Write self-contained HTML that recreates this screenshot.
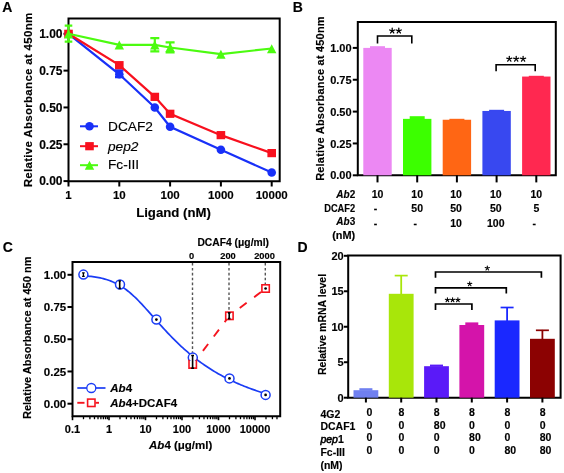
<!DOCTYPE html>
<html><head><meta charset="utf-8"><style>
html,body{margin:0;padding:0;background:#fff;}
svg{display:block;font-family:"Liberation Sans", sans-serif;will-change:transform;} text{stroke:#000;stroke-width:0.15px;}
</style></head><body>
<svg width="564" height="473" viewBox="0 0 564 473">
<rect width="564" height="473" fill="#fff"/>
<text x="2.30" y="11.60" font-size="14" text-anchor="start" font-weight="bold" font-style="normal" fill="#000" >A</text>
<path d="M68.5,18.6 H279.7 V181.2 H68.5 Z" fill="none" stroke="#000" stroke-width="2"/>
<line x1="63.50" y1="33.80" x2="68.50" y2="33.80" stroke="#000" stroke-width="2" />
<text x="62.50" y="38.10" font-size="12" text-anchor="end" font-weight="bold" font-style="normal" fill="#000" >1.00</text>
<line x1="63.50" y1="70.62" x2="68.50" y2="70.62" stroke="#000" stroke-width="2" />
<text x="62.50" y="74.92" font-size="12" text-anchor="end" font-weight="bold" font-style="normal" fill="#000" >0.75</text>
<line x1="63.50" y1="107.45" x2="68.50" y2="107.45" stroke="#000" stroke-width="2" />
<text x="62.50" y="111.75" font-size="12" text-anchor="end" font-weight="bold" font-style="normal" fill="#000" >0.50</text>
<line x1="63.50" y1="144.27" x2="68.50" y2="144.27" stroke="#000" stroke-width="2" />
<text x="62.50" y="148.57" font-size="12" text-anchor="end" font-weight="bold" font-style="normal" fill="#000" >0.25</text>
<line x1="63.50" y1="181.10" x2="68.50" y2="181.10" stroke="#000" stroke-width="2" />
<text x="62.50" y="185.40" font-size="12" text-anchor="end" font-weight="bold" font-style="normal" fill="#000" >0.00</text>
<line x1="68.50" y1="181.20" x2="68.50" y2="186.50" stroke="#000" stroke-width="2" />
<text x="68.50" y="199.30" font-size="11.5" text-anchor="middle" font-weight="bold" font-style="normal" fill="#000" >1</text>
<line x1="119.30" y1="181.20" x2="119.30" y2="186.50" stroke="#000" stroke-width="2" />
<text x="119.30" y="199.30" font-size="11.5" text-anchor="middle" font-weight="bold" font-style="normal" fill="#000" >10</text>
<line x1="170.10" y1="181.20" x2="170.10" y2="186.50" stroke="#000" stroke-width="2" />
<text x="170.10" y="199.30" font-size="11.5" text-anchor="middle" font-weight="bold" font-style="normal" fill="#000" >100</text>
<line x1="220.90" y1="181.20" x2="220.90" y2="186.50" stroke="#000" stroke-width="2" />
<text x="220.90" y="199.30" font-size="11.5" text-anchor="middle" font-weight="bold" font-style="normal" fill="#000" >1000</text>
<line x1="271.70" y1="181.20" x2="271.70" y2="186.50" stroke="#000" stroke-width="2" />
<text x="271.70" y="199.30" font-size="11.5" text-anchor="middle" font-weight="bold" font-style="normal" fill="#000" >10000</text>
<text x="173.50" y="217.30" font-size="13.2" text-anchor="middle" font-weight="bold" font-style="normal" fill="#000" >Ligand (nM)</text>
<text x="0" y="0" font-size="11.5" font-weight="bold" text-anchor="middle" textLength="174.5" lengthAdjust="spacing" transform="translate(31.5,100) rotate(-90)">Relative Absorbance at 450nm</text>
<polyline points="68.50,33.80 119.30,74.31 154.81,107.45 170.10,126.75 220.90,149.73 271.70,172.56" fill="none" stroke="#1830f8" stroke-width="2.2"/>
<path d="M119.30,70.30 V77.20 M115.00,70.30 H123.60 M115.00,77.20 H123.60" stroke="#1830f8" stroke-width="2.2" fill="none"/>
<circle cx="68.50" cy="33.80" r="4.3" fill="#1830f8"/>
<circle cx="119.30" cy="74.31" r="4.3" fill="#1830f8"/>
<circle cx="154.81" cy="107.45" r="4.3" fill="#1830f8"/>
<circle cx="170.10" cy="126.75" r="4.3" fill="#1830f8"/>
<circle cx="220.90" cy="149.73" r="4.3" fill="#1830f8"/>
<circle cx="271.70" cy="172.56" r="4.3" fill="#1830f8"/>
<polyline points="68.50,33.80 119.30,65.17 154.81,96.84 170.10,113.78 220.90,135.14 271.70,153.11" fill="none" stroke="#f8101e" stroke-width="2.2"/>
<rect x="64.20" y="29.70" width="8.60" height="8.20" fill="#f8101e" />
<rect x="115.00" y="61.07" width="8.60" height="8.20" fill="#f8101e" />
<rect x="150.51" y="92.74" width="8.60" height="8.20" fill="#f8101e" />
<rect x="165.80" y="109.68" width="8.60" height="8.20" fill="#f8101e" />
<rect x="216.60" y="131.04" width="8.60" height="8.20" fill="#f8101e" />
<rect x="267.40" y="149.01" width="8.60" height="8.20" fill="#f8101e" />
<polyline points="68.50,33.80 119.30,44.85 154.81,44.85 170.10,47.50 220.90,54.13 271.70,48.53" fill="none" stroke="#4cfb10" stroke-width="2.2"/>
<path d="M68.50,25.70 V41.60 M64.70,25.70 H72.30 M64.70,41.60 H72.30" stroke="#4cfb10" stroke-width="2.2" fill="none"/>
<path d="M154.81,38.10 V51.30 M150.31,38.10 H159.31 M150.31,51.30 H159.31" stroke="#4cfb10" stroke-width="2.2" fill="none"/>
<path d="M170.10,42.30 V52.50 M165.60,42.30 H174.60 M165.60,52.50 H174.60" stroke="#4cfb10" stroke-width="2.2" fill="none"/>
<path d="M68.50,29.40 L73.20,38.40 L63.80,38.40 Z" fill="#4cfb10"/>
<path d="M119.30,40.45 L124.00,49.45 L114.60,49.45 Z" fill="#4cfb10"/>
<path d="M154.81,40.45 L159.51,49.45 L150.11,49.45 Z" fill="#4cfb10"/>
<path d="M170.10,43.10 L174.80,52.10 L165.40,52.10 Z" fill="#4cfb10"/>
<path d="M220.90,49.73 L225.60,58.73 L216.20,58.73 Z" fill="#4cfb10"/>
<path d="M271.70,44.13 L276.40,53.13 L267.00,53.13 Z" fill="#4cfb10"/>
<line x1="80.00" y1="126.30" x2="98.00" y2="126.30" stroke="#1830f8" stroke-width="2" />
<circle cx="89.5" cy="126.3" r="4.3" fill="#1830f8"/>
<text x="108.00" y="131.00" font-size="13.7" text-anchor="start" font-weight="normal" font-style="normal" fill="#000" >DCAF2</text>
<line x1="80.00" y1="146.20" x2="98.00" y2="146.20" stroke="#f8101e" stroke-width="2" />
<rect x="85.20" y="142.10" width="8.60" height="8.20" fill="#f8101e" />
<text x="108.00" y="150.70" font-size="13.7" text-anchor="start" font-weight="normal" font-style="italic" fill="#000" >pep2</text>
<line x1="80.00" y1="165.20" x2="98.00" y2="165.20" stroke="#4cfb10" stroke-width="2" />
<path d="M89.50,160.80 L94.20,169.80 L84.80,169.80 Z" fill="#4cfb10"/>
<text x="108.00" y="168.60" font-size="13.7" text-anchor="start" font-weight="normal" font-style="normal" fill="#000" >Fc-III</text>
<text x="292.80" y="11.70" font-size="14" text-anchor="start" font-weight="bold" font-style="normal" fill="#000" >B</text>
<path d="M357.8,22.1 H555.8 V175.3 H357.8 Z" fill="none" stroke="#000" stroke-width="2"/>
<line x1="352.80" y1="47.90" x2="357.80" y2="47.90" stroke="#000" stroke-width="2" />
<text x="351.60" y="52.00" font-size="11" text-anchor="end" font-weight="bold" font-style="normal" fill="#000" >1.00</text>
<line x1="352.80" y1="79.75" x2="357.80" y2="79.75" stroke="#000" stroke-width="2" />
<text x="351.60" y="83.85" font-size="11" text-anchor="end" font-weight="bold" font-style="normal" fill="#000" >0.75</text>
<line x1="352.80" y1="111.60" x2="357.80" y2="111.60" stroke="#000" stroke-width="2" />
<text x="351.60" y="115.70" font-size="11" text-anchor="end" font-weight="bold" font-style="normal" fill="#000" >0.50</text>
<line x1="352.80" y1="143.45" x2="357.80" y2="143.45" stroke="#000" stroke-width="2" />
<text x="351.60" y="147.55" font-size="11" text-anchor="end" font-weight="bold" font-style="normal" fill="#000" >0.25</text>
<line x1="352.80" y1="175.30" x2="357.80" y2="175.30" stroke="#000" stroke-width="2" />
<text x="351.60" y="179.40" font-size="11" text-anchor="end" font-weight="bold" font-style="normal" fill="#000" >0.00</text>
<text x="0" y="0" font-size="11" font-weight="bold" text-anchor="middle" textLength="164.5" lengthAdjust="spacing" transform="translate(323.6,98.6) rotate(-90)">Relative Absorbance at 450nm</text>
<rect x="363.30" y="47.90" width="28.40" height="127.40" fill="#ec88f3" />
<rect x="370.00" y="46.20" width="15.00" height="2.20" fill="#ec88f3" />
<line x1="377.50" y1="175.30" x2="377.50" y2="182.40" stroke="#000" stroke-width="2" />
<rect x="403.00" y="118.86" width="28.40" height="56.44" fill="#3cff00" />
<rect x="409.70" y="116.20" width="15.00" height="3.16" fill="#3cff00" />
<line x1="417.20" y1="175.30" x2="417.20" y2="182.40" stroke="#000" stroke-width="2" />
<rect x="442.70" y="119.75" width="28.40" height="55.55" fill="#ff6614" />
<rect x="449.40" y="118.80" width="15.00" height="1.45" fill="#ff6614" />
<line x1="456.90" y1="175.30" x2="456.90" y2="182.40" stroke="#000" stroke-width="2" />
<rect x="482.40" y="110.96" width="28.40" height="64.34" fill="#3848f0" />
<rect x="489.10" y="109.80" width="15.00" height="1.66" fill="#3848f0" />
<line x1="496.60" y1="175.30" x2="496.60" y2="182.40" stroke="#000" stroke-width="2" />
<rect x="522.10" y="76.56" width="28.40" height="98.74" fill="#ff2850" />
<rect x="528.80" y="75.80" width="15.00" height="1.27" fill="#ff2850" />
<line x1="536.30" y1="175.30" x2="536.30" y2="182.40" stroke="#000" stroke-width="2" />
<path d="M377.5,43.5 V36 H411.8 V43.5" fill="none" stroke="#000" stroke-width="1.6"/>
<path d="M392.20,30.80 L392.20,28.10 M392.20,30.80 L394.77,29.97 M392.20,30.80 L393.79,32.98 M392.20,30.80 L390.61,32.98 M392.20,30.80 L389.63,29.97 " stroke="#000" stroke-width="1.25" stroke-linecap="round" fill="none"/>
<path d="M398.80,30.80 L398.80,28.10 M398.80,30.80 L401.37,29.97 M398.80,30.80 L400.39,32.98 M398.80,30.80 L397.21,32.98 M398.80,30.80 L396.23,29.97 " stroke="#000" stroke-width="1.25" stroke-linecap="round" fill="none"/>
<path d="M496.1,71.3 V64.7 H535.2 V71.3" fill="none" stroke="#000" stroke-width="1.6"/>
<path d="M509.30,59.00 L509.30,56.30 M509.30,59.00 L511.87,58.17 M509.30,59.00 L510.89,61.18 M509.30,59.00 L507.71,61.18 M509.30,59.00 L506.73,58.17 " stroke="#000" stroke-width="1.25" stroke-linecap="round" fill="none"/>
<path d="M516.20,59.00 L516.20,56.30 M516.20,59.00 L518.77,58.17 M516.20,59.00 L517.79,61.18 M516.20,59.00 L514.61,61.18 M516.20,59.00 L513.63,58.17 " stroke="#000" stroke-width="1.25" stroke-linecap="round" fill="none"/>
<path d="M523.10,59.00 L523.10,56.30 M523.10,59.00 L525.67,58.17 M523.10,59.00 L524.69,61.18 M523.10,59.00 L521.51,61.18 M523.10,59.00 L520.53,58.17 " stroke="#000" stroke-width="1.25" stroke-linecap="round" fill="none"/>
<text x="355.20" y="197.60" font-size="10" text-anchor="end" font-weight="bold" font-style="normal" fill="#000" ><tspan font-style="italic">Ab</tspan>2</text>
<text x="355.20" y="211.70" font-size="10" text-anchor="end" font-weight="bold" font-style="normal" fill="#000" textLength="31" lengthAdjust="spacingAndGlyphs">DCAF2</text>
<text x="355.20" y="225.30" font-size="10" text-anchor="end" font-weight="bold" font-style="normal" fill="#000" ><tspan font-style="italic">Ab</tspan>3</text>
<text x="355.20" y="238.90" font-size="10" text-anchor="end" font-weight="bold" font-style="normal" fill="#000" textLength="23" lengthAdjust="spacingAndGlyphs">(nM)</text>
<text x="377.50" y="197.70" font-size="10.5" text-anchor="middle" font-weight="bold" font-style="normal" fill="#000" >10</text>
<text x="417.20" y="197.70" font-size="10.5" text-anchor="middle" font-weight="bold" font-style="normal" fill="#000" >10</text>
<text x="456.10" y="197.70" font-size="10.5" text-anchor="middle" font-weight="bold" font-style="normal" fill="#000" >10</text>
<text x="495.80" y="197.70" font-size="10.5" text-anchor="middle" font-weight="bold" font-style="normal" fill="#000" >10</text>
<text x="536.30" y="197.70" font-size="10.5" text-anchor="middle" font-weight="bold" font-style="normal" fill="#000" >10</text>
<text x="375.50" y="212.40" font-size="10.5" text-anchor="middle" font-weight="bold" font-style="normal" fill="#000" >-</text>
<text x="417.20" y="212.40" font-size="10.5" text-anchor="middle" font-weight="bold" font-style="normal" fill="#000" >50</text>
<text x="456.10" y="212.40" font-size="10.5" text-anchor="middle" font-weight="bold" font-style="normal" fill="#000" >50</text>
<text x="495.80" y="212.40" font-size="10.5" text-anchor="middle" font-weight="bold" font-style="normal" fill="#000" >50</text>
<text x="536.30" y="212.40" font-size="10.5" text-anchor="middle" font-weight="bold" font-style="normal" fill="#000" >5</text>
<text x="375.50" y="227.20" font-size="10.5" text-anchor="middle" font-weight="bold" font-style="normal" fill="#000" >-</text>
<text x="415.20" y="227.20" font-size="10.5" text-anchor="middle" font-weight="bold" font-style="normal" fill="#000" >-</text>
<text x="456.10" y="227.20" font-size="10.5" text-anchor="middle" font-weight="bold" font-style="normal" fill="#000" >10</text>
<text x="495.80" y="227.20" font-size="10.5" text-anchor="middle" font-weight="bold" font-style="normal" fill="#000" >100</text>
<text x="534.30" y="227.20" font-size="10.5" text-anchor="middle" font-weight="bold" font-style="normal" fill="#000" >-</text>
<text x="2.80" y="251.90" font-size="14" text-anchor="start" font-weight="bold" font-style="normal" fill="#000" >C</text>
<path d="M72.5,262.0 H280.2 V416.2 H72.5 Z" fill="none" stroke="#000" stroke-width="2"/>
<line x1="67.50" y1="274.80" x2="72.50" y2="274.80" stroke="#000" stroke-width="2" />
<text x="66.20" y="279.00" font-size="11.5" text-anchor="end" font-weight="bold" font-style="normal" fill="#000" >1.00</text>
<line x1="67.50" y1="307.02" x2="72.50" y2="307.02" stroke="#000" stroke-width="2" />
<text x="66.20" y="311.22" font-size="11.5" text-anchor="end" font-weight="bold" font-style="normal" fill="#000" >0.75</text>
<line x1="67.50" y1="339.25" x2="72.50" y2="339.25" stroke="#000" stroke-width="2" />
<text x="66.20" y="343.45" font-size="11.5" text-anchor="end" font-weight="bold" font-style="normal" fill="#000" >0.50</text>
<line x1="67.50" y1="371.47" x2="72.50" y2="371.47" stroke="#000" stroke-width="2" />
<text x="66.20" y="375.67" font-size="11.5" text-anchor="end" font-weight="bold" font-style="normal" fill="#000" >0.25</text>
<line x1="67.50" y1="403.70" x2="72.50" y2="403.70" stroke="#000" stroke-width="2" />
<text x="66.20" y="407.90" font-size="11.5" text-anchor="end" font-weight="bold" font-style="normal" fill="#000" >0.00</text>
<line x1="72.50" y1="416.20" x2="72.50" y2="420.20" stroke="#000" stroke-width="1.6" />
<line x1="83.49" y1="416.20" x2="83.49" y2="419.20" stroke="#000" stroke-width="1.3" />
<line x1="89.91" y1="416.20" x2="89.91" y2="419.20" stroke="#000" stroke-width="1.3" />
<line x1="94.48" y1="416.20" x2="94.48" y2="419.20" stroke="#000" stroke-width="1.3" />
<line x1="98.01" y1="416.20" x2="98.01" y2="419.20" stroke="#000" stroke-width="1.3" />
<line x1="100.90" y1="416.20" x2="100.90" y2="419.20" stroke="#000" stroke-width="1.3" />
<line x1="103.35" y1="416.20" x2="103.35" y2="419.20" stroke="#000" stroke-width="1.3" />
<line x1="105.46" y1="416.20" x2="105.46" y2="419.20" stroke="#000" stroke-width="1.3" />
<line x1="107.33" y1="416.20" x2="107.33" y2="419.20" stroke="#000" stroke-width="1.3" />
<text x="72.50" y="432.80" font-size="11" text-anchor="middle" font-weight="bold" font-style="normal" fill="#000" >0.1</text>
<line x1="109.00" y1="416.20" x2="109.00" y2="420.20" stroke="#000" stroke-width="1.6" />
<line x1="119.99" y1="416.20" x2="119.99" y2="419.20" stroke="#000" stroke-width="1.3" />
<line x1="126.41" y1="416.20" x2="126.41" y2="419.20" stroke="#000" stroke-width="1.3" />
<line x1="130.98" y1="416.20" x2="130.98" y2="419.20" stroke="#000" stroke-width="1.3" />
<line x1="134.51" y1="416.20" x2="134.51" y2="419.20" stroke="#000" stroke-width="1.3" />
<line x1="137.40" y1="416.20" x2="137.40" y2="419.20" stroke="#000" stroke-width="1.3" />
<line x1="139.85" y1="416.20" x2="139.85" y2="419.20" stroke="#000" stroke-width="1.3" />
<line x1="141.96" y1="416.20" x2="141.96" y2="419.20" stroke="#000" stroke-width="1.3" />
<line x1="143.83" y1="416.20" x2="143.83" y2="419.20" stroke="#000" stroke-width="1.3" />
<text x="109.00" y="432.80" font-size="11" text-anchor="middle" font-weight="bold" font-style="normal" fill="#000" >1</text>
<line x1="145.50" y1="416.20" x2="145.50" y2="420.20" stroke="#000" stroke-width="1.6" />
<line x1="156.49" y1="416.20" x2="156.49" y2="419.20" stroke="#000" stroke-width="1.3" />
<line x1="162.91" y1="416.20" x2="162.91" y2="419.20" stroke="#000" stroke-width="1.3" />
<line x1="167.48" y1="416.20" x2="167.48" y2="419.20" stroke="#000" stroke-width="1.3" />
<line x1="171.01" y1="416.20" x2="171.01" y2="419.20" stroke="#000" stroke-width="1.3" />
<line x1="173.90" y1="416.20" x2="173.90" y2="419.20" stroke="#000" stroke-width="1.3" />
<line x1="176.35" y1="416.20" x2="176.35" y2="419.20" stroke="#000" stroke-width="1.3" />
<line x1="178.46" y1="416.20" x2="178.46" y2="419.20" stroke="#000" stroke-width="1.3" />
<line x1="180.33" y1="416.20" x2="180.33" y2="419.20" stroke="#000" stroke-width="1.3" />
<text x="145.50" y="432.80" font-size="11" text-anchor="middle" font-weight="bold" font-style="normal" fill="#000" >10</text>
<line x1="182.00" y1="416.20" x2="182.00" y2="420.20" stroke="#000" stroke-width="1.6" />
<line x1="192.99" y1="416.20" x2="192.99" y2="419.20" stroke="#000" stroke-width="1.3" />
<line x1="199.41" y1="416.20" x2="199.41" y2="419.20" stroke="#000" stroke-width="1.3" />
<line x1="203.98" y1="416.20" x2="203.98" y2="419.20" stroke="#000" stroke-width="1.3" />
<line x1="207.51" y1="416.20" x2="207.51" y2="419.20" stroke="#000" stroke-width="1.3" />
<line x1="210.40" y1="416.20" x2="210.40" y2="419.20" stroke="#000" stroke-width="1.3" />
<line x1="212.85" y1="416.20" x2="212.85" y2="419.20" stroke="#000" stroke-width="1.3" />
<line x1="214.96" y1="416.20" x2="214.96" y2="419.20" stroke="#000" stroke-width="1.3" />
<line x1="216.83" y1="416.20" x2="216.83" y2="419.20" stroke="#000" stroke-width="1.3" />
<text x="182.00" y="432.80" font-size="11" text-anchor="middle" font-weight="bold" font-style="normal" fill="#000" >100</text>
<line x1="218.50" y1="416.20" x2="218.50" y2="420.20" stroke="#000" stroke-width="1.6" />
<line x1="229.49" y1="416.20" x2="229.49" y2="419.20" stroke="#000" stroke-width="1.3" />
<line x1="235.91" y1="416.20" x2="235.91" y2="419.20" stroke="#000" stroke-width="1.3" />
<line x1="240.48" y1="416.20" x2="240.48" y2="419.20" stroke="#000" stroke-width="1.3" />
<line x1="244.01" y1="416.20" x2="244.01" y2="419.20" stroke="#000" stroke-width="1.3" />
<line x1="246.90" y1="416.20" x2="246.90" y2="419.20" stroke="#000" stroke-width="1.3" />
<line x1="249.35" y1="416.20" x2="249.35" y2="419.20" stroke="#000" stroke-width="1.3" />
<line x1="251.46" y1="416.20" x2="251.46" y2="419.20" stroke="#000" stroke-width="1.3" />
<line x1="253.33" y1="416.20" x2="253.33" y2="419.20" stroke="#000" stroke-width="1.3" />
<text x="218.50" y="432.80" font-size="11" text-anchor="middle" font-weight="bold" font-style="normal" fill="#000" >1000</text>
<line x1="255.00" y1="416.20" x2="255.00" y2="420.20" stroke="#000" stroke-width="1.6" />
<line x1="265.99" y1="416.20" x2="265.99" y2="419.20" stroke="#000" stroke-width="1.3" />
<line x1="272.41" y1="416.20" x2="272.41" y2="419.20" stroke="#000" stroke-width="1.3" />
<line x1="276.98" y1="416.20" x2="276.98" y2="419.20" stroke="#000" stroke-width="1.3" />
<text x="255.00" y="432.80" font-size="11" text-anchor="middle" font-weight="bold" font-style="normal" fill="#000" >10000</text>
<text x="180.70" y="449.10" font-size="11.5" text-anchor="middle" font-weight="bold" font-style="normal" fill="#000" ><tspan font-style="italic">Ab</tspan>4 (&#956;g/ml)</text>
<text x="0" y="0" font-size="11" font-weight="bold" text-anchor="middle" textLength="162.5" lengthAdjust="spacing" transform="translate(31.3,337.8) rotate(-90)">Relative Absorbance at 450 nm</text>
<text x="233.20" y="246.30" font-size="10.3" text-anchor="middle" font-weight="bold" font-style="normal" fill="#000" >DCAF4 (&#956;g/ml)</text>
<text x="191.49" y="258.80" font-size="9.3" text-anchor="middle" font-weight="bold" font-style="normal" fill="#000" >0</text>
<text x="227.99" y="258.80" font-size="9.3" text-anchor="middle" font-weight="bold" font-style="normal" fill="#000" >200</text>
<text x="264.49" y="258.80" font-size="9.3" text-anchor="middle" font-weight="bold" font-style="normal" fill="#000" >2000</text>
<line x1="192.50" y1="263.00" x2="192.50" y2="352.80" stroke="#555" stroke-width="1.4" stroke-dasharray="2.6,2.3"/>
<line x1="229.00" y1="263.00" x2="229.00" y2="311.60" stroke="#555" stroke-width="1.4" stroke-dasharray="2.6,2.3"/>
<line x1="265.30" y1="263.00" x2="265.30" y2="284.30" stroke="#555" stroke-width="1.4" stroke-dasharray="2.6,2.3"/>
<path d="M83.40,275.74 L84.93,275.86 L86.46,275.98 L87.99,276.13 L89.52,276.29 L91.06,276.46 L92.59,276.65 L94.12,276.86 L95.65,277.10 L97.18,277.36 L98.71,277.64 L100.24,277.95 L101.77,278.29 L103.30,278.66 L104.84,279.07 L106.37,279.52 L107.90,280.00 L109.43,280.53 L110.96,281.10 L112.49,281.73 L114.02,282.40 L115.55,283.12 L117.08,283.90 L118.62,284.73 L120.15,285.62 L121.68,286.57 L123.21,287.58 L124.74,288.65 L126.27,289.77 L127.80,290.96 L129.33,292.20 L130.86,293.50 L132.39,294.86 L133.93,296.26 L135.46,297.72 L136.99,299.22 L138.52,300.76 L140.05,302.34 L141.58,303.95 L143.11,305.60 L144.64,307.26 L146.17,308.95 L147.71,310.66 L149.24,312.38 L150.77,314.11 L152.30,315.84 L153.83,317.58 L155.36,319.31 L156.89,321.04 L158.42,322.77 L159.95,324.48 L161.49,326.18 L163.02,327.87 L164.55,329.54 L166.08,331.19 L167.61,332.83 L169.14,334.44 L170.67,336.03 L172.20,337.60 L173.73,339.15 L175.27,340.68 L176.80,342.18 L178.33,343.65 L179.86,345.10 L181.39,346.53 L182.92,347.93 L184.45,349.30 L185.98,350.65 L187.51,351.98 L189.05,353.28 L190.58,354.56 L192.11,355.81 L193.64,357.04 L195.17,358.24 L196.70,359.42 L198.23,360.58 L199.76,361.71 L201.29,362.82 L202.83,363.91 L204.36,364.98 L205.89,366.02 L207.42,367.04 L208.95,368.05 L210.48,369.03 L212.01,369.99 L213.54,370.94 L215.07,371.86 L216.61,372.76 L218.14,373.65 L219.67,374.51 L221.20,375.36 L222.73,376.20 L224.26,377.01 L225.79,377.81 L227.32,378.59 L228.85,379.35 L230.38,380.10 L231.92,380.83 L233.45,381.55 L234.98,382.26 L236.51,382.94 L238.04,383.62 L239.57,384.28 L241.10,384.92 L242.63,385.56 L244.16,386.17 L245.70,386.78 L247.23,387.37 L248.76,387.96 L250.29,388.52 L251.82,389.08 L253.35,389.63 L254.88,390.16 L256.41,390.68 L257.94,391.20 L259.48,391.70 L261.01,392.19 L262.54,392.67 L264.07,393.14 L265.60,393.60" fill="none" stroke="#1a3cf5" stroke-width="1.7"/>
<path d="M192.7,364.4 L229.4,315.8" fill="none" stroke="#f5141e" stroke-width="1.9" stroke-dasharray="8.6,9.4" stroke-dashoffset="1"/>
<path d="M229.4,315.8 L265.6,288.5" fill="none" stroke="#f5141e" stroke-width="1.9" stroke-dasharray="8.6,9.4" stroke-dashoffset="5"/>
<rect x="225.70" y="312.10" width="7.4" height="7.4" fill="#fff" stroke="#f5141e" stroke-width="1.6"/>
<rect x="261.90" y="284.80" width="7.4" height="7.4" fill="#fff" stroke="#f5141e" stroke-width="1.6"/>
<path d="M229.20,312.90 V318.60 M227.90,312.90 H230.50 M227.90,318.60 H230.50" stroke="#000" stroke-width="1.6" fill="none"/>
<circle cx="265.60" cy="288.50" r="1.35" fill="#000"/>
<circle cx="83.40" cy="274.60" r="4.5" fill="#fff" stroke="#1a3cf5" stroke-width="1.5"/>
<circle cx="120.00" cy="284.50" r="4.5" fill="#fff" stroke="#1a3cf5" stroke-width="1.5"/>
<circle cx="156.40" cy="319.50" r="4.5" fill="#fff" stroke="#1a3cf5" stroke-width="1.5"/>
<circle cx="192.80" cy="357.60" r="4.5" fill="#fff" stroke="#1a3cf5" stroke-width="1.5"/>
<circle cx="229.50" cy="378.40" r="4.5" fill="#fff" stroke="#1a3cf5" stroke-width="1.5"/>
<circle cx="265.60" cy="394.90" r="4.5" fill="#fff" stroke="#1a3cf5" stroke-width="1.5"/>
<rect x="189.00" y="361.00" width="7.4" height="7.1" fill="#fff"/>
<path d="M189.00,359.80 V368.10 H196.40 V359.80" fill="none" stroke="#f5141e" stroke-width="1.6"/>
<path d="M192.60,355.50 V368.30 M191.20,355.50 H194.00 M191.20,368.30 H194.00" stroke="#000" stroke-width="1.6" fill="none"/>
<path d="M83.40,272.90 V276.30 M82.10,272.90 H84.70 M82.10,276.30 H84.70" stroke="#000" stroke-width="1.3" fill="none"/>
<path d="M119.70,281.00 V288.40 M118.50,281.00 H120.90 M118.50,288.40 H120.90" stroke="#000" stroke-width="1.6" fill="none"/>
<circle cx="156.40" cy="319.60" r="1.35" fill="#000"/>
<circle cx="229.50" cy="378.40" r="1.35" fill="#000"/>
<circle cx="265.60" cy="394.90" r="1.35" fill="#000"/>
<line x1="77.30" y1="388.00" x2="105.50" y2="388.00" stroke="#1a3cf5" stroke-width="1.7" />
<circle cx="91.3" cy="388" r="4.5" fill="#fff" stroke="#1a3cf5" stroke-width="1.3"/>
<line x1="77.30" y1="402.80" x2="84.50" y2="402.80" stroke="#f5141e" stroke-width="1.9" />
<line x1="95.50" y1="402.80" x2="99.00" y2="402.80" stroke="#f5141e" stroke-width="1.9" />
<rect x="87.6" y="399.1" width="7.4" height="7.4" fill="#fff" stroke="#f5141e" stroke-width="1.6"/>
<text x="110.30" y="392.30" font-size="11.5" text-anchor="start" font-weight="bold" font-style="normal" fill="#000" ><tspan font-style="italic">Ab</tspan>4</text>
<text x="110.30" y="407.10" font-size="11.5" text-anchor="start" font-weight="bold" font-style="normal" fill="#000" ><tspan font-style="italic">Ab</tspan>4+DCAF4</text>
<text x="297.60" y="252.20" font-size="14" text-anchor="start" font-weight="bold" font-style="normal" fill="#000" >D</text>
<path d="M348.2,255.4 H560.6 V397.7 H348.2 Z" fill="none" stroke="#000" stroke-width="2"/>
<line x1="343.90" y1="397.70" x2="348.20" y2="397.70" stroke="#000" stroke-width="2" />
<text x="343.70" y="401.70" font-size="11" text-anchor="end" font-weight="bold" font-style="normal" fill="#000" >0</text>
<line x1="343.90" y1="362.22" x2="348.20" y2="362.22" stroke="#000" stroke-width="2" />
<text x="343.70" y="366.22" font-size="11" text-anchor="end" font-weight="bold" font-style="normal" fill="#000" >5</text>
<line x1="343.90" y1="326.75" x2="348.20" y2="326.75" stroke="#000" stroke-width="2" />
<text x="343.70" y="330.75" font-size="11" text-anchor="end" font-weight="bold" font-style="normal" fill="#000" >10</text>
<line x1="343.90" y1="291.27" x2="348.20" y2="291.27" stroke="#000" stroke-width="2" />
<text x="343.70" y="295.27" font-size="11" text-anchor="end" font-weight="bold" font-style="normal" fill="#000" >15</text>
<line x1="343.90" y1="255.80" x2="348.20" y2="255.80" stroke="#000" stroke-width="2" />
<text x="343.70" y="259.80" font-size="11" text-anchor="end" font-weight="bold" font-style="normal" fill="#000" >20</text>
<text x="0" y="0" font-size="10.5" font-weight="bold" text-anchor="middle"  transform="translate(326.1,324.5) rotate(-90)">Relative mRNA level</text>
<rect x="353.50" y="390.20" width="24.80" height="7.50" fill="#7080f0" />
<rect x="359.40" y="388.20" width="13.00" height="2.50" fill="#7080f0" />
<line x1="365.90" y1="397.70" x2="365.90" y2="402.50" stroke="#000" stroke-width="2" />
<rect x="388.80" y="293.80" width="24.80" height="103.90" fill="#a8e60a" />
<line x1="401.20" y1="275.20" x2="401.20" y2="294.30" stroke="#a8e60a" stroke-width="1.8" />
<line x1="394.70" y1="275.60" x2="407.70" y2="275.60" stroke="#a8e60a" stroke-width="1.7" />
<line x1="401.20" y1="397.70" x2="401.20" y2="402.50" stroke="#000" stroke-width="2" />
<rect x="424.10" y="366.20" width="24.80" height="31.50" fill="#5a1af8" />
<rect x="430.00" y="364.60" width="13.00" height="2.10" fill="#5a1af8" />
<line x1="436.50" y1="397.70" x2="436.50" y2="402.50" stroke="#000" stroke-width="2" />
<rect x="459.40" y="325.00" width="24.80" height="72.70" fill="#d414aa" />
<rect x="465.30" y="322.40" width="13.00" height="3.10" fill="#d414aa" />
<line x1="471.80" y1="397.70" x2="471.80" y2="402.50" stroke="#000" stroke-width="2" />
<rect x="494.70" y="320.40" width="24.80" height="77.30" fill="#1a28ff" />
<line x1="507.10" y1="307.10" x2="507.10" y2="320.90" stroke="#1a28ff" stroke-width="1.8" />
<line x1="500.60" y1="307.50" x2="513.60" y2="307.50" stroke="#1a28ff" stroke-width="1.7" />
<line x1="507.10" y1="397.70" x2="507.10" y2="402.50" stroke="#000" stroke-width="2" />
<rect x="530.00" y="338.80" width="24.80" height="58.90" fill="#8c0202" />
<line x1="542.40" y1="329.90" x2="542.40" y2="339.30" stroke="#8c0202" stroke-width="1.8" />
<line x1="535.90" y1="330.30" x2="548.90" y2="330.30" stroke="#8c0202" stroke-width="1.7" />
<line x1="542.40" y1="397.70" x2="542.40" y2="402.50" stroke="#000" stroke-width="2" />
<path d="M435.5,310.0 V304.0 H471.9 V310.0" fill="none" stroke="#000" stroke-width="1.7"/>
<path d="M447.40,299.90 L447.40,297.70 M447.40,299.90 L449.49,299.22 M447.40,299.90 L448.69,301.68 M447.40,299.90 L446.11,301.68 M447.40,299.90 L445.31,299.22 " stroke="#000" stroke-width="1.1" stroke-linecap="round" fill="none"/>
<path d="M452.60,299.90 L452.60,297.70 M452.60,299.90 L454.69,299.22 M452.60,299.90 L453.89,301.68 M452.60,299.90 L451.31,301.68 M452.60,299.90 L450.51,299.22 " stroke="#000" stroke-width="1.1" stroke-linecap="round" fill="none"/>
<path d="M457.90,299.90 L457.90,297.70 M457.90,299.90 L459.99,299.22 M457.90,299.90 L459.19,301.68 M457.90,299.90 L456.61,301.68 M457.90,299.90 L455.81,299.22 " stroke="#000" stroke-width="1.1" stroke-linecap="round" fill="none"/>
<path d="M435.5,293.6 V287.8 H506.3 V293.6" fill="none" stroke="#000" stroke-width="1.7"/>
<path d="M469.70,284.00 L469.70,281.80 M469.70,284.00 L471.79,283.32 M469.70,284.00 L470.99,285.78 M469.70,284.00 L468.41,285.78 M469.70,284.00 L467.61,283.32 " stroke="#000" stroke-width="1.1" stroke-linecap="round" fill="none"/>
<path d="M435.5,277.8 V272.0 H541.4 V277.8" fill="none" stroke="#000" stroke-width="1.7"/>
<path d="M487.30,268.20 L487.30,266.00 M487.30,268.20 L489.39,267.52 M487.30,268.20 L488.59,269.98 M487.30,268.20 L486.01,269.98 M487.30,268.20 L485.21,267.52 " stroke="#000" stroke-width="1.1" stroke-linecap="round" fill="none"/>
<text x="320.40" y="417.80" font-size="10.5" text-anchor="start" font-weight="bold" font-style="normal" fill="#000" >4G2</text>
<text x="320.40" y="430.40" font-size="10.5" text-anchor="start" font-weight="bold" font-style="normal" fill="#000" >DCAF1</text>
<text x="320.40" y="443.20" font-size="10.5" text-anchor="start" font-weight="bold" font-style="normal" fill="#000" ><tspan font-style="italic" font-weight="normal" style="stroke-width:0.55px">pep</tspan>1</text>
<text x="320.40" y="455.80" font-size="10.5" text-anchor="start" font-weight="bold" font-style="normal" fill="#000" >Fc-III</text>
<text x="320.40" y="469.20" font-size="10.5" text-anchor="start" font-weight="bold" font-style="normal" fill="#000" >(nM)</text>
<text x="366.40" y="416.10" font-size="10.5" text-anchor="start" font-weight="bold" font-style="normal" fill="#000" >0</text>
<text x="398.50" y="416.10" font-size="10.5" text-anchor="start" font-weight="bold" font-style="normal" fill="#000" >8</text>
<text x="433.80" y="416.10" font-size="10.5" text-anchor="start" font-weight="bold" font-style="normal" fill="#000" >8</text>
<text x="469.10" y="416.10" font-size="10.5" text-anchor="start" font-weight="bold" font-style="normal" fill="#000" >8</text>
<text x="504.40" y="416.10" font-size="10.5" text-anchor="start" font-weight="bold" font-style="normal" fill="#000" >8</text>
<text x="539.70" y="416.10" font-size="10.5" text-anchor="start" font-weight="bold" font-style="normal" fill="#000" >8</text>
<text x="366.40" y="428.70" font-size="10.5" text-anchor="start" font-weight="bold" font-style="normal" fill="#000" >0</text>
<text x="398.50" y="428.70" font-size="10.5" text-anchor="start" font-weight="bold" font-style="normal" fill="#000" >0</text>
<text x="433.80" y="428.70" font-size="10.5" text-anchor="start" font-weight="bold" font-style="normal" fill="#000" >80</text>
<text x="469.10" y="428.70" font-size="10.5" text-anchor="start" font-weight="bold" font-style="normal" fill="#000" >0</text>
<text x="504.40" y="428.70" font-size="10.5" text-anchor="start" font-weight="bold" font-style="normal" fill="#000" >0</text>
<text x="539.70" y="428.70" font-size="10.5" text-anchor="start" font-weight="bold" font-style="normal" fill="#000" >0</text>
<text x="366.40" y="441.20" font-size="10.5" text-anchor="start" font-weight="bold" font-style="normal" fill="#000" >0</text>
<text x="398.50" y="441.20" font-size="10.5" text-anchor="start" font-weight="bold" font-style="normal" fill="#000" >0</text>
<text x="433.80" y="441.20" font-size="10.5" text-anchor="start" font-weight="bold" font-style="normal" fill="#000" >0</text>
<text x="469.10" y="441.20" font-size="10.5" text-anchor="start" font-weight="bold" font-style="normal" fill="#000" >80</text>
<text x="504.40" y="441.20" font-size="10.5" text-anchor="start" font-weight="bold" font-style="normal" fill="#000" >0</text>
<text x="539.70" y="441.20" font-size="10.5" text-anchor="start" font-weight="bold" font-style="normal" fill="#000" >80</text>
<text x="366.40" y="453.90" font-size="10.5" text-anchor="start" font-weight="bold" font-style="normal" fill="#000" >0</text>
<text x="398.50" y="453.90" font-size="10.5" text-anchor="start" font-weight="bold" font-style="normal" fill="#000" >0</text>
<text x="433.80" y="453.90" font-size="10.5" text-anchor="start" font-weight="bold" font-style="normal" fill="#000" >0</text>
<text x="469.10" y="453.90" font-size="10.5" text-anchor="start" font-weight="bold" font-style="normal" fill="#000" >0</text>
<text x="504.40" y="453.90" font-size="10.5" text-anchor="start" font-weight="bold" font-style="normal" fill="#000" >80</text>
<text x="539.70" y="453.90" font-size="10.5" text-anchor="start" font-weight="bold" font-style="normal" fill="#000" >80</text>
</svg></body></html>
